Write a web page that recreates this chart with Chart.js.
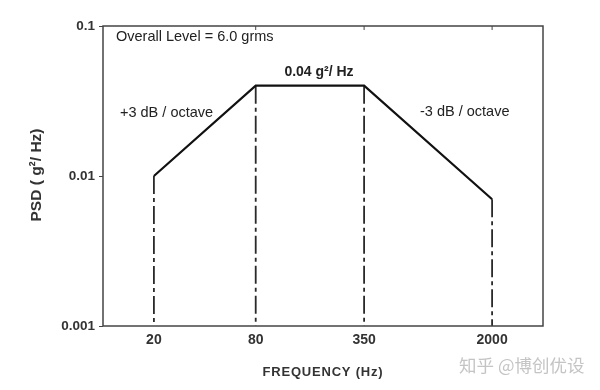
<!DOCTYPE html>
<html>
<head>
<meta charset="utf-8">
<script src="https://cdn.jsdelivr.net/npm/chart.js@4"></script>
<style>
  html, body { margin: 0; padding: 0; background: #fff; }
  #wrap { width: 600px; height: 390px; }
</style>
</head>
<body>
<div id="wrap"><canvas id="psdChart" width="600" height="390"></canvas></div>
<script>
// breakpoints of the profile
const freqs = [20, 80, 350, 2000];
const psd = [0.01, 0.04, 0.04, 0.007];
const floorLevel = 0.001;
const xTicks = [20, 80, 350, 2000];
const yTicks = [0.001, 0.01, 0.1];

const ink = '#333';
const font = 'Arial, "Liberation Sans", sans-serif';

const profile = freqs.map((f, i) => ({ x: f, y: psd[i] }));
// dash-dot drop lines, drawn from the breakpoint down
const drops = freqs.map((f, i) => ({
    data: [{ x: f, y: psd[i] }, { x: f, y: floorLevel }],
    showLine: true,
    borderColor: '#2a2a2a',
    borderWidth: 1.8,
    borderDash: [18, 4, 4, 4],
    pointRadius: 0
}));

// frame + labels drawn over the chart
const extras = {
    id: 'extras',
    afterDraw(chart) {
        const { ctx, chartArea: a } = chart;
        ctx.save();
        ctx.strokeStyle = '#444';
        ctx.lineWidth = 1.5;
        ctx.strokeRect(a.left, a.top, a.right - a.left, a.bottom - a.top);

        // small ticks on the top edge
        const xs = chart.scales.x;
        ctx.lineWidth = 1;
        xTicks.slice(1).forEach(v => {
            const px = xs.getPixelForValue(v);
            ctx.beginPath();
            ctx.moveTo(px, a.top);
            ctx.lineTo(px, a.top + 4);
            ctx.stroke();
        });

        ctx.fillStyle = '#222';
        ctx.textBaseline = 'middle';
        ctx.font = '14.5px ' + font;
        ctx.textAlign = 'left';
        ctx.fillText('Overall Level = 6.0 grms', 116, 37);
        ctx.fillText('+3 dB / octave', 120, 113);
        ctx.fillText('-3 dB / octave', 420, 112);
        ctx.font = 'bold 14px ' + font;
        ctx.textAlign = 'center';
        ctx.fillText('0.04 g\u00b2/ Hz', 319, 72);

        // axis titles
        ctx.fillStyle = ink;
        ctx.font = 'bold 13px ' + font;
        ctx.letterSpacing = '0.8px';
        ctx.fillText('FREQUENCY (Hz)', 323, 372);
        ctx.letterSpacing = '0px';
        ctx.save();
        ctx.translate(37, 175);
        ctx.rotate(-Math.PI / 2);
        ctx.font = 'bold 15.5px ' + font;
        ctx.fillText('PSD ( g\u00b2/ Hz)', 0, 0);
        ctx.restore();

        // watermark
        ctx.fillStyle = '#c4c4c4';
        ctx.font = '17.5px "Noto Sans CJK SC", sans-serif';
        ctx.textAlign = 'left';
        ctx.fillText('知乎 @博创优设', 459, 365);
        ctx.restore();
    }
};

new Chart(document.getElementById('psdChart'), {
    type: 'scatter',
    data: {
        datasets: [{
            data: profile,
            showLine: true,
            borderColor: '#111',
            borderWidth: 2.2,
            pointRadius: 0
        }, ...drops]
    },
    options: {
        responsive: false,
        animation: false,
        layout: { padding: { top: 26, right: 57, left: 0, bottom: 0 } },
        plugins: { legend: { display: false }, tooltip: { enabled: false } },
        scales: {
            x: {
                type: 'logarithmic',
                min: 10,
                max: 4000,
                afterBuildTicks: s => { s.ticks = xTicks.map(v => ({ value: v })); },
                afterFit: s => { s.height = 64; },
                ticks: {
                    color: ink,
                    font: { family: font, size: 14, weight: 'bold' },
                    padding: 6,
                    maxRotation: 0,
                    autoSkip: false,
                    callback: v => String(v)
                },
                grid: { display: false, drawTicks: false },
                border: { display: false }
            },
            y: {
                type: 'logarithmic',
                min: 0.001,
                max: 0.1,
                afterBuildTicks: s => { s.ticks = yTicks.map(v => ({ value: v })); },
                afterFit: s => { s.width = 103; },
                ticks: {
                    color: ink,
                    font: { family: font, size: 13.5, weight: 'bold' },
                    padding: 4,
                    autoSkip: false,
                    callback: v => String(v)
                },
                grid: { drawOnChartArea: false, tickLength: 4, color: '#444' },
                border: { display: false }
            }
        }
    },
    plugins: [extras]
});
</script>
</body>
</html>
